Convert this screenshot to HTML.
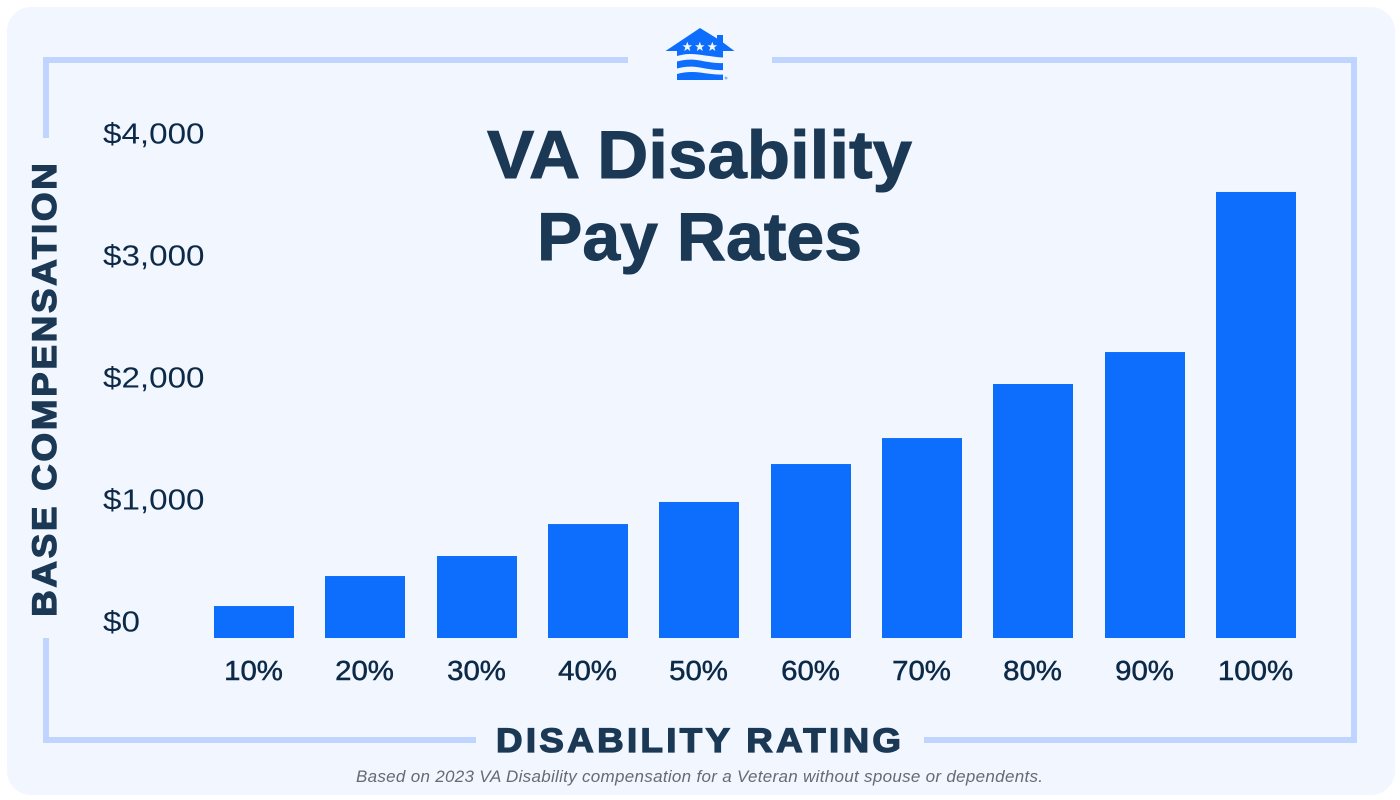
<!DOCTYPE html>
<html lang="en">
<head>
<meta charset="utf-8">
<title>VA Disability Pay Rates</title>
<style>
html,body{margin:0;padding:0;background:#fff;width:1400px;height:800px;overflow:hidden}
svg{display:block}
text{font-family:"Liberation Sans",sans-serif}
</style>
</head>
<body>
<svg id="chart" width="1400" height="800" viewBox="0 0 1400 800" xmlns="http://www.w3.org/2000/svg">
  <rect x="7" y="7" width="1388" height="788" rx="24" fill="#f1f6ff"/>
  <g fill="#bfd5ff">
    <rect x="43" y="57" width="585" height="6"/>
    <rect x="772" y="57" width="585" height="6"/>
    <rect x="43" y="57" width="6" height="81"/>
    <rect x="43" y="638" width="6" height="105"/>
    <rect x="1351" y="57" width="6" height="686"/>
    <rect x="43" y="737" width="433" height="6"/>
    <rect x="924" y="737" width="433" height="6"/>
  </g>
  <g>
    <path d="M700 28 L717 38.500 V35 H723 V42.500 L734.500 51 H723 V57.500 C712 57 700 54 690 54 C685 54 681 55 677 56 V51 H665.500 Z" fill="#0d6efd"/>
    <path d="M677 61.500 C684 59.500 692 59 700 60.500 C708 62 716 63.500 723 63 V70 C716 70.500 708 69 700 67.500 C692 66 684 66.500 677 68.500 Z" fill="#0d6efd"/>
    <path d="M677 74 C684 72 692 71.500 700 72.500 C708 73.500 716 75 723 74.500 V80 H677 Z" fill="#0d6efd"/>
    <g fill="#f1f6ff">
      <polygon transform="translate(687.300 46.800)" points="0,-5 1.300,-1.600 4.800,-1.600 2,0.600 3,4.200 0,2.100 -3,4.200 -2,0.600 -4.800,-1.600 -1.300,-1.600"/>
      <polygon transform="translate(699.800 46.800)" points="0,-5 1.300,-1.600 4.800,-1.600 2,0.600 3,4.200 0,2.100 -3,4.200 -2,0.600 -4.800,-1.600 -1.300,-1.600"/>
      <polygon transform="translate(712.300 46.800)" points="0,-5 1.300,-1.600 4.800,-1.600 2,0.600 3,4.200 0,2.100 -3,4.200 -2,0.600 -4.800,-1.600 -1.300,-1.600"/>
    </g>
    <circle cx="726" cy="78" r="1.500" fill="#8db6f5"/>
  </g>
  <g fill="#1b3854" stroke="#1b3854" stroke-width="1" font-size="68" font-weight="700" text-anchor="middle">
    <text x="699.500" y="178" textLength="425" lengthAdjust="spacingAndGlyphs">VA Disability</text>
    <text x="699.500" y="260" textLength="325" lengthAdjust="spacingAndGlyphs">Pay Rates</text>
  </g>
  <text transform="translate(56 390) rotate(-90) scale(1.08 1)" text-anchor="middle" fill="#1b3854" font-size="34" font-weight="700" stroke="#1b3854" stroke-width="1.300" textLength="420" lengthAdjust="spacing">BASE COMPENSATION</text>
  <text transform="translate(698.500 752) scale(1.08 1)" text-anchor="middle" fill="#1b3854" font-size="34" font-weight="700" stroke="#1b3854" stroke-width="1.300" textLength="375" lengthAdjust="spacing">DISABILITY RATING</text>
  <text x="699.500" y="782" text-anchor="middle" fill="#666b73" font-size="17" font-style="italic" textLength="687" lengthAdjust="spacing">Based on 2023 VA Disability compensation for a Veteran without spouse or dependents.</text>
  <g id="y-ticks"></g>
  <g id="bars"></g>
  <g id="x-ticks"></g>
</svg>
<script>
const categories = ['10%', '20%', '30%', '40%', '50%', '60%', '70%', '80%', '90%', '100%'];
const payValues = [262, 508, 672, 934, 1115, 1426, 1639, 2082, 2344, 3656];
const yTickValues = [0, 1000, 2000, 3000, 4000];
const yTickLabels = ['$0', '$1,000', '$2,000', '$3,000', '$4,000'];

const SVG_NS = 'http://www.w3.org/2000/svg';
function yScale(v) { return 638 - v * 0.122; }
function xBandLeft(i) { return Math.round(214 + i * (1002 / (categories.length - 1))); }
const barWidth = 80;

const barsGroup = document.getElementById('bars');
const xTicksGroup = document.getElementById('x-ticks');
const yTicksGroup = document.getElementById('y-ticks');

categories.forEach(function (cat, i) {
  const top = yScale(payValues[i]);
  const bar = document.createElementNS(SVG_NS, 'rect');
  bar.setAttribute('x', xBandLeft(i));
  bar.setAttribute('y', top);
  bar.setAttribute('width', barWidth);
  bar.setAttribute('height', yScale(0) - top);
  bar.setAttribute('fill', '#0d6efd');
  
  
  barsGroup.appendChild(bar);

  const label = document.createElementNS(SVG_NS, 'text');
  label.setAttribute('transform', 'translate(' + (xBandLeft(i) + barWidth / 2 - 0.5) + ' 680) scale(1.05 1)');
  label.setAttribute('text-anchor', 'middle');
  label.setAttribute('font-size', '28');
  label.setAttribute('fill', '#0c2a47');
  label.setAttribute('stroke', '#0c2a47');
  label.setAttribute('stroke-width', '0.5');
  
  
  label.textContent = cat;
  xTicksGroup.appendChild(label);
});

yTickValues.forEach(function (v, i) {
  const label = document.createElementNS(SVG_NS, 'text');
  label.setAttribute('transform', 'translate(103 ' + (yScale(v) - 6.5) + ') scale(1.145 1)');
  label.setAttribute('font-size', '29');
  label.setAttribute('fill', '#0c2a47');
  
  
  label.textContent = yTickLabels[i];
  yTicksGroup.appendChild(label);
});
</script>
</body>
</html>
